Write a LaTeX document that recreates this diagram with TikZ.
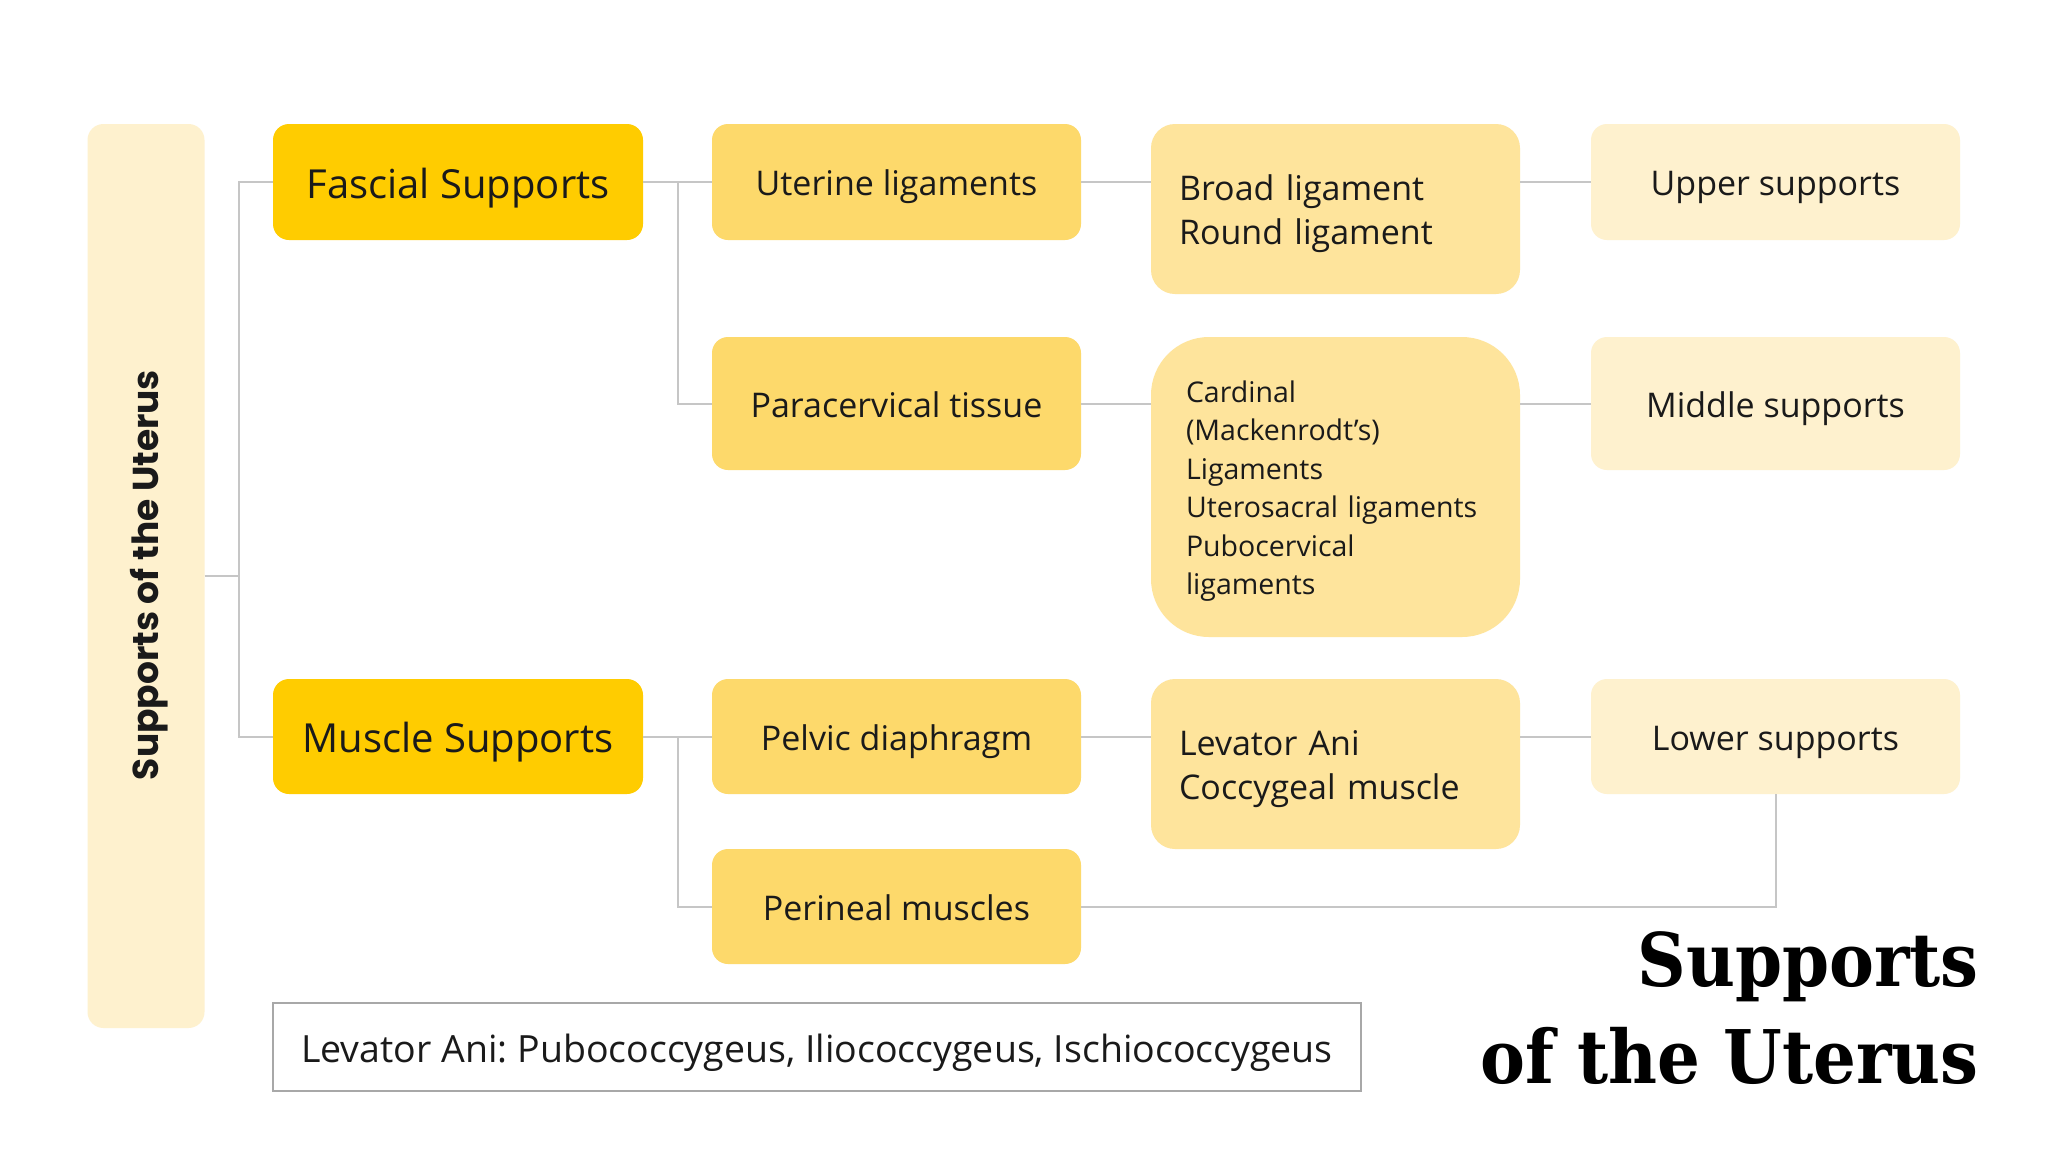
\documentclass[tikz,border=0pt]{standalone}
\usepackage{fontspec}
\setmainfont{Open Sans}
\newfontfamily\vfont{Poppins}
\newfontfamily\titlefont[FakeStretch=0.91]{DejaVu Serif}
\definecolor{lvA}{HTML}{FFCC00}
\definecolor{lvB}{HTML}{FDD96B}
\definecolor{lvC}{HTML}{FEE49C}
\definecolor{lvD}{HTML}{FEF1CE}
\definecolor{barc}{HTML}{FEF1CE}
\definecolor{linec}{HTML}{C6C6C6}
\definecolor{notec}{HTML}{A8A8A8}
\definecolor{txt}{HTML}{1A1A1A}
\frenchspacing
\begin{document}
\begin{tikzpicture}[x=1pt,y=-1pt,
  box/.style={rectangle, rounded corners=16pt, inner sep=0pt, align=center, text=txt, minimum width=369pt},
  bigtxt/.style={font=\fontsize{40}{48}\selectfont, text height=32pt, text depth=0pt},
  midtxt/.style={font=\fontsize{34}{44}\selectfont, text height=27.2pt, text depth=0pt},
  multxt/.style={font=\fontsize{34}{44}\selectfont},
  smltxt/.style={font=\fontsize{28.5}{38.5}\selectfont},
  conn/.style={draw=linec, line width=2pt}]
\useasboundingbox (0,0) rectangle (2048,1152);
\fill[white] (0,0) rectangle (2048,1152);

% left bar
\node[box, fill=barc, minimum width=117pt, minimum height=904pt] (bar) at (146,576) {};
\node[rotate=90, text=txt, font=\vfont\bfseries\fontsize{36}{36}\selectfont] (bart) at (149,575) {Supports of the Uterus};

% level A
\node[box, bigtxt, fill=lvA, minimum width=370pt, minimum height=116pt] (fasc) at (458,182) {Fascial Supports};
\node[box, bigtxt, fill=lvA, minimum width=370pt, minimum height=115pt] (musc) at (458,736.5) {Muscle Supports};

% level B
\node[box, midtxt, fill=lvB, minimum height=116pt] (uter) at (896.5,182) {Uterine ligaments};
\node[box, midtxt, fill=lvB, minimum height=133pt] (para) at (896.5,403.5) {Paracervical tissue};
\node[box, midtxt, fill=lvB, minimum height=115pt] (pelv) at (896.5,736.5) {Pelvic diaphragm};
\node[box, midtxt, fill=lvB, minimum height=115pt] (peri) at (896.5,906.5) {Perineal muscles};

% level C
\node[box, multxt, fill=lvC, rounded corners=24pt, minimum height=170pt, inner xsep=28pt, text width=313pt, align=left] (broad) at (1335.5,209) {\rule{0pt}{36pt}\mbox{Broad ligament}\\\mbox{Round ligament}};
\node[box, smltxt, fill=lvC, rounded corners=58pt, minimum height=300pt, inner xsep=35pt, text width=299pt, align=left] (card) at (1335.5,487) {\rule{0pt}{29.7pt}Cardinal\\\mbox{(Mackenrodt’s)}\\Ligaments\\\mbox{Uterosacral ligaments}\\Pubocervical\\ligaments};
\node[box, multxt, fill=lvC, rounded corners=24pt, minimum height=170pt, inner xsep=28pt, text width=313pt, align=left] (leva) at (1335.5,764) {\rule{0pt}{36pt}\mbox{Levator Ani}\\\mbox{Coccygeal muscle}};

% level D
\node[box, midtxt, fill=lvD, minimum height=116pt] (upper) at (1775.5,182) {Upper supports};
\node[box, midtxt, fill=lvD, minimum height=133pt] (middle) at (1775.5,403.5) {Middle supports};
\node[box, midtxt, fill=lvD, minimum height=115pt] (lower) at (1775.5,736.5) {Lower supports};

% junctions
\coordinate (j1) at (239,576);
\coordinate (j2) at (678,182);
\coordinate (j3) at (678,736.5);

% connectors
\draw[conn] (bar.east) -- (j1);
\draw[conn] (fasc.west) -| (j1) |- (musc.west);
\draw[conn] (fasc.east) -- (uter.west);
\draw[conn] (j2) |- (para.west);
\draw[conn] (musc.east) -- (pelv.west);
\draw[conn] (j3) |- (peri.west);
\draw[conn] (uter.east) -- (uter.east -| broad.west);
\draw[conn] (uter.east -| broad.east) -- (upper.west);
\draw[conn] (para.east) -- (para.east -| card.west);
\draw[conn] (para.east -| card.east) -- (middle.west);
\draw[conn] (pelv.east) -- (pelv.east -| leva.west);
\draw[conn] (pelv.east -| leva.east) -- (lower.west);
\draw[conn] (peri.east) -| (lower.south);

% note
\node[draw=notec, line width=2.5pt, fill=white, minimum width=1088pt, minimum height=88pt, inner sep=0pt, text=txt, font=\fontsize{37.5}{44}\selectfont, text height=30pt, text depth=0pt] (note) at (817,1047) {Levator Ani: Pubococcygeus, Iliococcygeus, Ischiococcygeus};

% title
\node[anchor=base east, inner sep=0pt, text=black, font=\titlefont\bfseries\fontsize{74}{74}\selectfont] (t1) at (1979,986) {Supports};
\node[anchor=base east, inner sep=0pt, text=black, font=\titlefont\bfseries\fontsize{74}{74}\selectfont] (t2) at (1979,1083) {of the Uterus};
\end{tikzpicture}
\end{document}
